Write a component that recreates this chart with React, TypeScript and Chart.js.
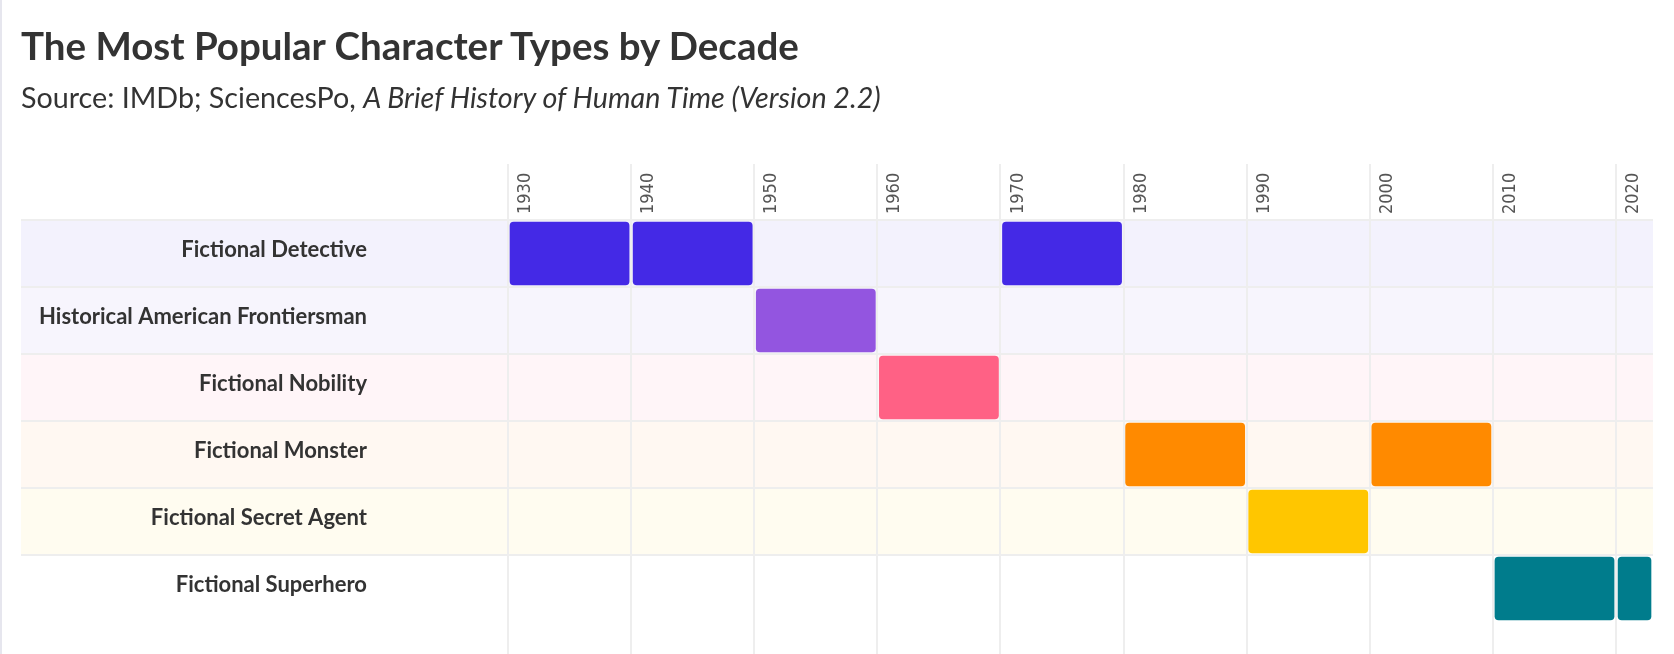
import React, { useEffect, useRef } from "react";
import { Chart, registerables } from "chart.js";

Chart.register(...registerables);

// ---------- data ----------
const TITLE = "The Most Popular Character Types by Decade";
const SOURCE_PREFIX = "Source: IMDb; SciencesPo, ";
const SOURCE_WORK = "A Brief History of Human Time (Version 2.2)";

const CHARACTER_TYPES = [
  "Fictional Detective",
  "Historical American Frontiersman",
  "Fictional Nobility",
  "Fictional Monster",
  "Fictional Secret Agent",
  "Fictional Superhero",
];

const DECADE_TICKS = [1930, 1940, 1950, 1960, 1970, 1980, 1990, 2000, 2010, 2020];
const START_YEAR = 1930;
const END_YEAR = 2023;
const DECADE_LENGTH = 10;

const DETECTIVE_DECADES = [1930, 1940, 1970];
const FRONTIERSMAN_DECADES = [1950];
const NOBILITY_DECADES = [1960];
const MONSTER_DECADES = [1980, 2000];
const SECRET_AGENT_DECADES = [1990];
const SUPERHERO_DECADES = [2010, 2020];

const DECADES_BY_TYPE = [
  DETECTIVE_DECADES,
  FRONTIERSMAN_DECADES,
  NOBILITY_DECADES,
  MONSTER_DECADES,
  SECRET_AGENT_DECADES,
  SUPERHERO_DECADES,
];

const BAR_COLORS = ["#4429e6", "#9355e0", "#ff6185", "#ff8a00", "#ffc600", "#007c8c"];
const ROW_BACKGROUNDS = ["#f3f2fd", "#f7f5fd", "#fff5f8", "#fff8f2", "#fffcf0", "#ffffff"];

// ---------- styles ----------
const GRID_COLOR = "#eeeeee";
const TEXT_COLOR = "#333333";
const TITLE_FONT = "Lato, 'Noto Sans', sans-serif";

const rowDecor = {
  id: "rowDecor",
  beforeDraw(chart: any) {
    const { ctx, chartArea, scales } = chart;
    const y = scales.y;
    const n = CHARACTER_TYPES.length;
    const h = chartArea.height / n;
    ctx.save();
    CHARACTER_TYPES.forEach((_, i) => {
      const c = y.getPixelForValue(i);
      ctx.fillStyle = ROW_BACKGROUNDS[i];
      ctx.fillRect(y.left, c - h / 2, chartArea.right - y.left, h);
    });
    ctx.restore();
  },
  beforeDatasetsDraw(chart: any) {
    const { ctx, chartArea, scales } = chart;
    const x = scales.x;
    const y = scales.y;
    const n = CHARACTER_TYPES.length;
    const h = chartArea.height / n;
    ctx.save();
    ctx.strokeStyle = GRID_COLOR;
    ctx.lineWidth = 2;
    ctx.beginPath();
    CHARACTER_TYPES.forEach((_, i) => {
      const top = Math.round(y.getPixelForValue(i) - h / 2);
      ctx.moveTo(y.left, top);
      ctx.lineTo(chartArea.right, top);
    });
    x.ticks.forEach((t: any) => {
      const px = Math.round(x.getPixelForValue(t.value));
      ctx.moveTo(px, chartArea.bottom);
      ctx.lineTo(px, chart.height);
    });
    ctx.stroke();
    ctx.restore();
  },
};

export default function App() {
  const canvasRef = useRef<HTMLCanvasElement | null>(null);

  useEffect(() => {
    if (!canvasRef.current) return;
    const datasets = CHARACTER_TYPES.map((type, i) => ({
      label: type,
      data: DECADES_BY_TYPE[i].map((d) => ({
        x: [d, Math.min(d + DECADE_LENGTH, END_YEAR)],
        y: type,
      })),
      backgroundColor: BAR_COLORS[i],
      borderColor: "rgba(0,0,0,0)",
      borderWidth: 2,
      borderSkipped: false,
      borderRadius: 6,
      grouped: false,
      barPercentage: 1,
      categoryPercentage: 1,
    }));

    const chart = new Chart(canvasRef.current, {
      type: "bar",
      data: { labels: CHARACTER_TYPES, datasets: datasets as any },
      plugins: [rowDecor],
      options: {
        indexAxis: "y",
        animation: false,
        responsive: false,
        devicePixelRatio: 1,
        layout: { padding: { left: 21, right: 21, top: 150, bottom: 32 } },
        plugins: {
          legend: { display: false },
          tooltip: { enabled: false },
          title: { display: false },
        },
        scales: {
          x: {
            type: "linear",
            position: "top",
            min: START_YEAR,
            max: END_YEAR,
            afterBuildTicks: (scale: any) => {
              scale.ticks = DECADE_TICKS.map((value) => ({ value }));
            },
            afterFit: (scale: any) => {
              scale.height = 70;
            },
            grid: {
              color: GRID_COLOR,
              lineWidth: 2,
              drawTicks: true,
              tickLength: 56,
              tickColor: GRID_COLOR,
            },
            border: { display: false },
            ticks: {
              autoSkip: false,
              minRotation: 90,
              maxRotation: 90,
              padding: -50,
              labelOffset: 39,
              color: "#555555",
              font: { family: "'DejaVu Sans Condensed', 'DejaVu Sans', sans-serif", size: 18 },
              callback: (v: any) => String(v),
            },
          },
          y: {
            type: "category",
            offset: true,
            afterFit: (scale: any) => {
              scale.width = 487;
            },
            grid: { display: false, drawTicks: true, tickLength: 141 },
            border: { display: false },
            ticks: {
              padding: 0,
              labelOffset: -4,
              color: TEXT_COLOR,
              font: { family: TITLE_FONT, size: 22, weight: "bold" },
            },
          },
        },
      } as any,
    });
    return () => chart.destroy();
  }, []);

  return (
    <div
      style={{
        position: "absolute",
        left: 0,
        top: 0,
        width: 1674,
        height: 654,
        overflow: "hidden",
        background: "#ffffff",
      }}
    >
      <canvas
        ref={canvasRef}
        width={1674}
        height={654}
        style={{ position: "absolute", left: 0, top: 0, width: 1674, height: 654 }}
      />
      <div
        style={{
          position: "absolute",
          left: 0,
          top: 0,
          width: 2,
          height: 654,
          background: "#e6e6ee",
        }}
      />
      <div
        style={{
          position: "absolute",
          left: 21,
          top: 26,
          margin: 0,
          fontFamily: TITLE_FONT,
          fontWeight: 700,
          fontSize: 38.5,
          lineHeight: "38.5px",
          color: TEXT_COLOR,
          whiteSpace: "nowrap",
        }}
      >
        {TITLE}
      </div>
      <div
        style={{
          position: "absolute",
          left: 21,
          top: 83,
          margin: 0,
          fontFamily: TITLE_FONT,
          fontWeight: 400,
          fontSize: 28.7,
          lineHeight: "28.7px",
          color: TEXT_COLOR,
          whiteSpace: "nowrap",
        }}
      >
        {SOURCE_PREFIX}
        <i>{SOURCE_WORK}</i>
      </div>
    </div>
  );
}
